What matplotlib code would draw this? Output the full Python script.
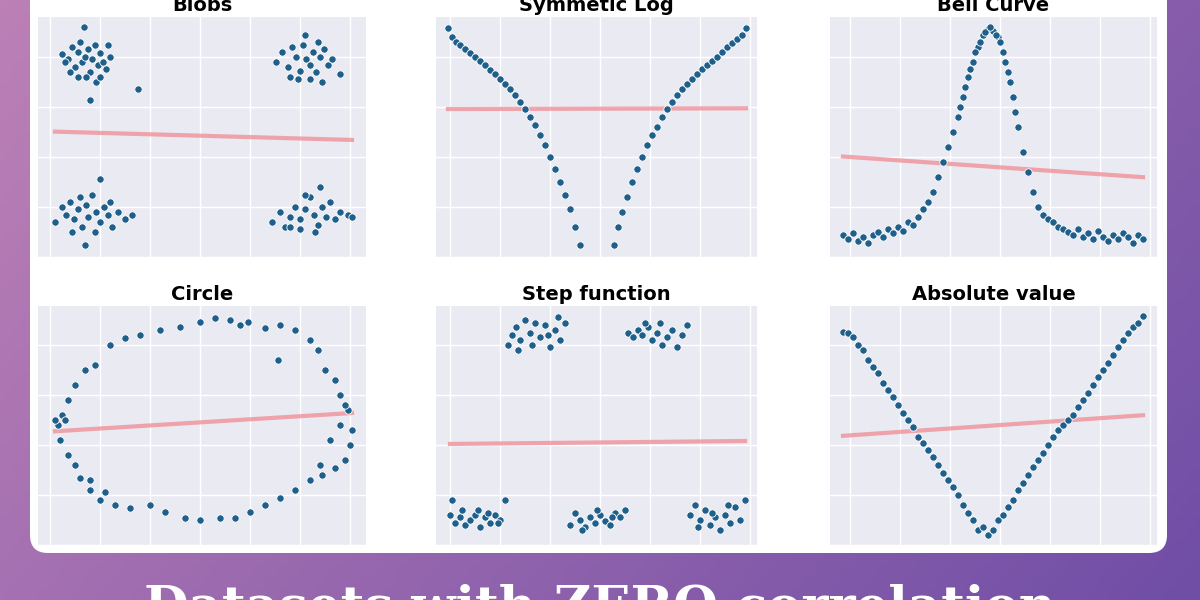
import numpy as np
import matplotlib
matplotlib.use("Agg")
import matplotlib.pyplot as plt
from matplotlib.patches import FancyBboxPatch

# ---- data (arbitrary units) ----
blobs_x = [62, 68, 72, 75, 78, 80, 82, 85, 88, 90, 92, 95, 98, 100, 103, 106, 110, 84, 90, 70, 96, 86, 78, 100, 138, 65, 108,
           276, 282, 288, 292, 296, 300, 303, 306, 310, 313, 316, 320, 324, 328, 332, 340, 298, 310, 322, 305, 290, 318,
           55, 62, 66, 70, 74, 78, 82, 86, 88, 92, 96, 100, 104, 108, 112, 118, 125, 132, 85, 100, 80, 95, 72, 110,
           272, 280, 285, 290, 295, 300, 305, 310, 314, 318, 322, 326, 330, 335, 340, 348, 352, 300, 315, 320, 305, 290]
blobs_y = [203, 198, 210, 190, 205, 215, 195, 200, 208, 185, 198, 212, 192, 204, 195, 188, 200, 230, 157, 185, 175, 180, 180, 180, 168, 195, 212,
           195, 205, 190, 210, 200, 186, 212, 198, 192, 205, 185, 200, 208, 192, 198, 183, 178, 178, 175, 222, 180, 215,
           35, 50, 42, 55, 38, 48, 30, 52, 40, 62, 45, 35, 50, 42, 30, 45, 38, 42, 12, 78, 60, 25, 25, 55,
           35, 45, 30, 40, 50, 38, 48, 60, 42, 32, 50, 40, 55, 38, 45, 42, 40, 28, 25, 70, 62, 30]

symlog_x = [448, 452, 456, 460, 465, 470, 475, 480, 485, 490, 495, 500, 505, 510, 515, 520, 525, 530, 535, 540, 545, 550, 555, 560, 565, 570, 575, 580,
            614, 618, 622, 627, 632, 637, 642, 647, 652, 657, 662, 667, 672, 677, 682, 687, 692, 697, 702, 707, 712, 717, 722, 727, 732, 737, 742, 746]
symlog_y = [229, 220, 215, 212, 208, 204, 200, 196, 192, 187, 183, 178, 173, 168, 162, 155, 148, 140, 132, 122, 112, 100, 88, 75, 62, 48, 30, 12,
            12, 30, 45, 60, 75, 88, 100, 112, 122, 130, 140, 148, 155, 162, 168, 173, 178, 183, 188, 192, 196, 200, 205, 210, 214, 218, 222, 229]

bell_x = [843, 848, 853, 858, 863, 868, 873, 878, 883, 888, 893, 898, 903, 908, 913, 918, 923, 928, 933, 938, 943, 948, 953, 958, 963, 968,
          973, 978, 983, 988, 993, 998, 1003, 1008, 1013, 1018, 1023, 1028, 1033, 1038, 1043, 1048, 1053, 1058, 1063, 1068, 1073, 1078,
          1083, 1088, 1093, 1098, 1103, 1108, 1113, 1118, 1123, 1128, 1133, 1138, 1143,
          960, 965, 975, 985, 990, 996, 1000, 1005, 1010, 1015, 970, 980]
bell_y = [22, 18, 24, 16, 20, 14, 22, 25, 20, 28, 24, 30, 26, 35, 32, 40, 48, 55, 65, 80, 95, 110, 125, 140, 160, 180,
          195, 210, 222, 228, 226, 220, 205, 185, 160, 130, 105, 85, 65, 50, 42, 38, 35, 30, 28, 25, 22, 28,
          20, 24, 18, 26, 20, 16, 22, 18, 24, 20, 14, 22, 18,
          150, 170, 205, 225, 230, 222, 215, 195, 175, 145, 188, 215]

circle_x = [215, 200, 180, 160, 140, 125, 110, 95, 85, 75, 68, 62, 58, 60, 68, 75, 80, 90, 100, 115, 130, 150, 165, 185, 200, 220, 235, 250,
            265, 280, 295, 310, 322, 335, 345, 350, 352, 348, 340, 335, 325, 318, 310, 295, 280, 265, 248, 230, 55, 65, 340, 345, 330, 278,
            320, 90, 105, 240]
circle_y = [227, 223, 218, 215, 210, 207, 200, 180, 175, 160, 145, 130, 120, 105, 90, 80, 67, 55, 45, 40, 37, 40, 33, 27, 25, 27, 27, 33,
            40, 47, 55, 65, 70, 77, 85, 100, 115, 135, 150, 165, 175, 195, 205, 215, 220, 217, 223, 225, 125, 125, 120, 140, 105, 185,
            80, 65, 53, 220]

step_x = [450, 455, 460, 465, 470, 475, 480, 485, 490, 495, 500, 505, 452, 478, 488, 498, 462,
          508, 512, 516, 520, 525, 530, 535, 540, 545, 550, 555, 560, 565, 518, 532, 548, 558,
          570, 575, 580, 585, 590, 595, 600, 605, 610, 615, 620, 625, 582, 597, 612,
          628, 633, 638, 642, 648, 652, 657, 662, 667, 672, 677, 682, 687, 660, 645,
          690, 695, 700, 705, 710, 715, 720, 725, 730, 735, 740, 745, 698, 728, 712]
step_y = [30, 22, 28, 20, 25, 30, 18, 28, 22, 30, 25, 45, 45, 35, 32, 22, 35,
          200, 210, 218, 205, 225, 212, 222, 208, 220, 198, 215, 205, 222, 195, 200, 210, 228,
          20, 32, 25, 18, 28, 22, 30, 24, 20, 32, 28, 35, 15, 35, 28,
          212, 208, 215, 210, 218, 205, 212, 200, 208, 215, 198, 210, 220, 222, 222,
          30, 40, 25, 35, 20, 28, 15, 30, 22, 38, 25, 45, 18, 40, 32]

abs_x = [843, 848, 853, 858, 863, 868, 873, 878, 883, 888, 893, 898, 903, 908, 913, 918, 923, 928, 933, 938, 943, 948, 953, 958, 963, 968,
         973, 978, 983, 988, 993, 998, 1003, 1008, 1013, 1018, 1023, 1028, 1033, 1038, 1043, 1048, 1053, 1058, 1063, 1068, 1073, 1078,
         1083, 1088, 1093, 1098, 1103, 1108, 1113, 1118, 1123, 1128, 1133, 1138, 1143]
abs_y = [213, 212, 208, 200, 195, 185, 178, 172, 162, 155, 148, 140, 132, 125, 118, 108, 102, 95, 88, 80, 72, 65, 58, 50, 40, 32,
         25, 15, 18, 10, 15, 25, 30, 38, 45, 55, 62, 70, 78, 85, 92, 100, 108, 115, 120, 125, 130, 138,
         145, 152, 160, 168, 175, 182, 190, 198, 205, 212, 218, 222, 229]

titles = ["Blobs", "Symmetic Log", "Bell Curve", "Circle", "Step function", "Absolute value"]
datasets = [(blobs_x, blobs_y), (symlog_x, symlog_y), (bell_x, bell_y),
            (circle_x, circle_y), (step_x, step_y), (abs_x, abs_y)]

# axes boxes in pixels: left, right, top, bottom
boxes = [(38, 366, 17, 257), (436, 757, 17, 257), (830, 1157, 17, 257),
         (38, 366, 306, 545), (436, 757, 306, 545), (830, 1157, 306, 545)]

W, H = 1200, 600
fig = plt.figure(figsize=(12, 6), dpi=100)

# purple gradient background
bg = fig.add_axes([0, 0, 1, 1], zorder=-10)
gx = np.linspace(0, 1, 200)
gy = np.linspace(0, 1, 100)
t = (gx[None, :] * 0.7 + gy[:, None] * 0.3)
c0 = np.array([188, 128, 182]) / 255
c1 = np.array([112, 78, 166]) / 255
img = c0[None, None, :] * (1 - t[..., None]) + c1[None, None, :] * t[..., None]
bg.imshow(img, extent=[0, 1, 0, 1], aspect="auto", origin="upper")
bg.add_patch(FancyBboxPatch((30 / W, 1 - 553 / H), 1137 / W, 0.98,
                            boxstyle="round,pad=0,rounding_size=0.015",
                            fc="white", ec="none", transform=bg.transAxes,
                            mutation_aspect=2))
bg.set_xlim(0, 1)
bg.set_ylim(0, 1)
bg.axis("off")
fig.text(0.5, -0.035, "Datasets with ZERO correlation", ha="center", va="baseline",
         color="white", fontsize=37, fontweight="bold", family="DejaVu Serif")

for (x, y), title, (l, r, top, bot) in zip(datasets, titles, boxes):
    ax = fig.add_axes([l / W, 1 - bot / H, (r - l) / W, (bot - top) / H])
    ax.set_facecolor("#EAEAF2")
    for s in ax.spines.values():
        s.set_visible(False)
    ax.grid(True, color="white", lw=1)
    ax.set_axisbelow(True)
    ax.tick_params(length=0, labelbottom=False, labelleft=False)
    ax.set_xlim(l, r)
    ax.set_ylim(0, bot - top)
    ax.scatter(x, y, s=28, color="#1f5f8b", edgecolor="white", linewidth=0.6, zorder=3)
    k, b = np.polyfit(x, y, 1)
    xs = np.array([min(x), max(x)])
    ax.plot(xs, k * xs + b, color="#f08a92", alpha=0.75, lw=3, zorder=2)
    ax.set_title(title, fontsize=14, fontweight="bold", pad=4)

fig.savefig("out.png", dpi=100)
